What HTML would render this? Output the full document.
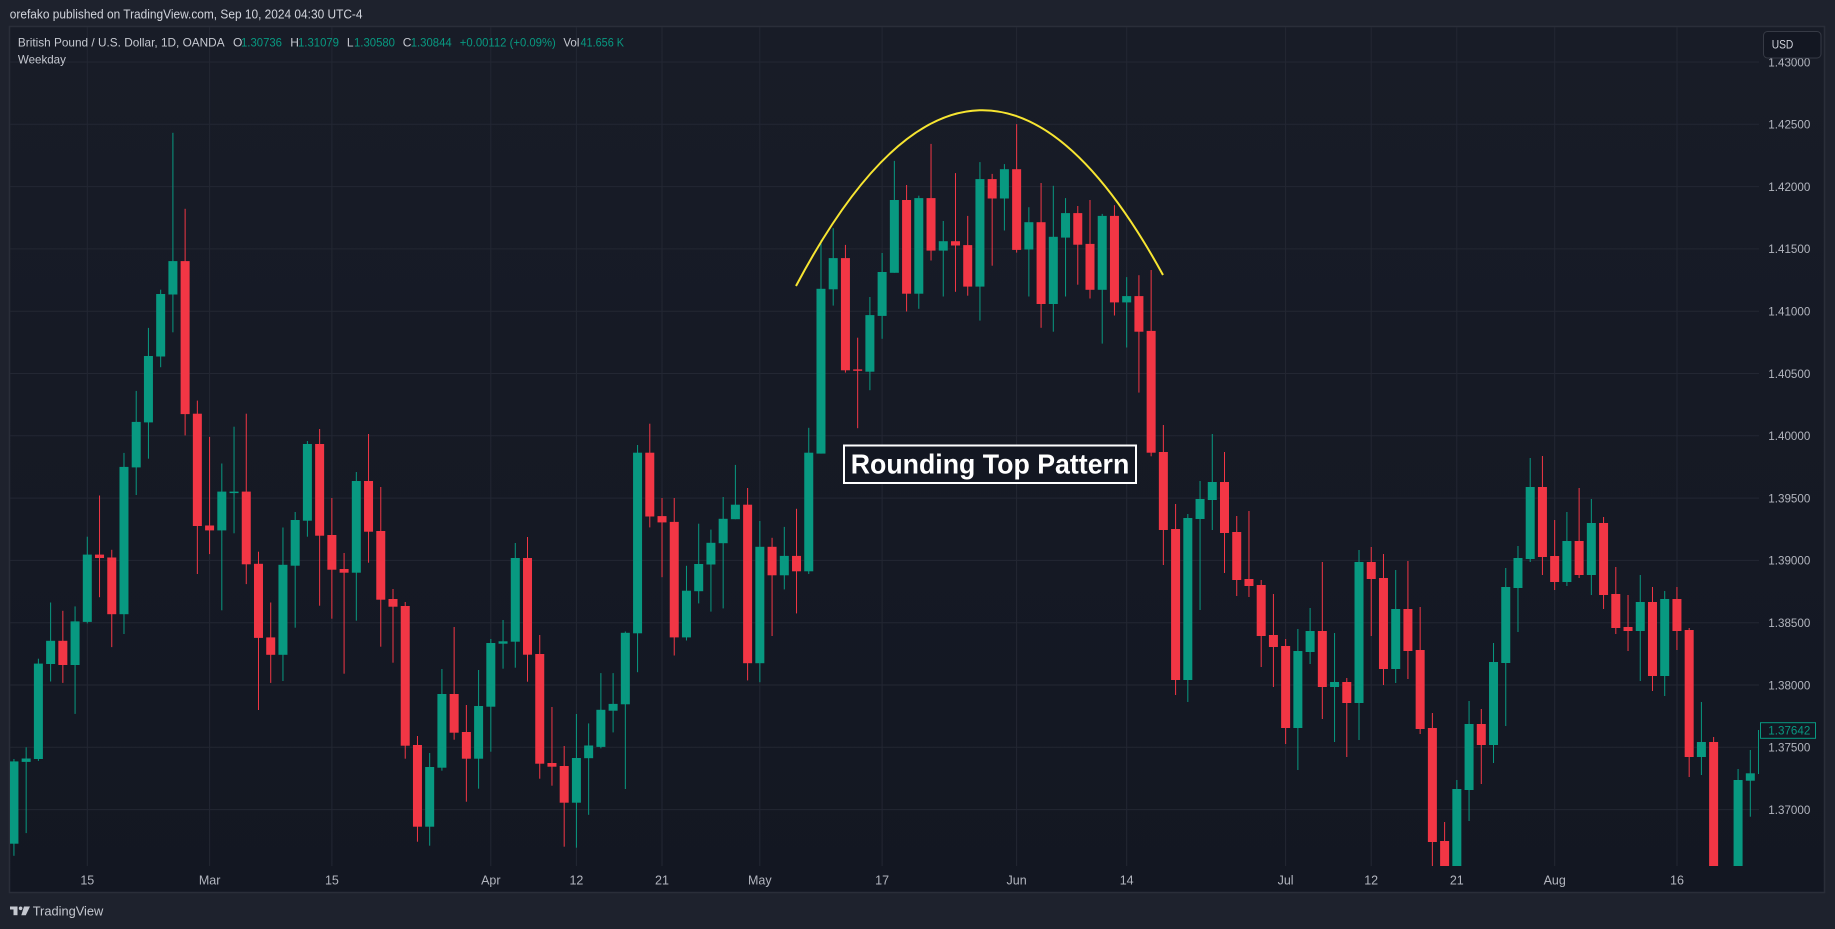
<!DOCTYPE html>
<html><head><meta charset="utf-8"><style>
html,body{margin:0;padding:0;background:#1E222D;}
svg{display:block;}
text{font-family:"Liberation Sans",sans-serif;}
</style></head><body>
<svg width="1835" height="929" viewBox="0 0 1835 929" xmlns="http://www.w3.org/2000/svg">
<defs>
<linearGradient id="bg" x1="0" y1="0" x2="0" y2="1"><stop offset="0" stop-color="#181C27"/><stop offset="1" stop-color="#131722"/></linearGradient>
<clipPath id="plot"><rect x="10" y="27" width="1749" height="839"/></clipPath>
</defs>
<rect x="0" y="0" width="1835" height="929" fill="#1E222D"/>
<text x="9.8" y="18.5" font-size="12.5" fill="#D1D4DC" textLength="352.7" lengthAdjust="spacingAndGlyphs">orefako published on TradingView.com, Sep 10, 2024 04:30 UTC-4</text>
<rect x="9.5" y="26.5" width="1815" height="866" fill="url(#bg)" stroke="#2A2E39" stroke-width="1.5"/>
<!-- grid -->
<g stroke="#232733" stroke-width="1">
<line x1="10" x2="1759" y1="62" y2="62"/><line x1="10" x2="1759" y1="124.3" y2="124.3"/><line x1="10" x2="1759" y1="186.6" y2="186.6"/><line x1="10" x2="1759" y1="248.9" y2="248.9"/><line x1="10" x2="1759" y1="311.2" y2="311.2"/><line x1="10" x2="1759" y1="373.5" y2="373.5"/><line x1="10" x2="1759" y1="435.8" y2="435.8"/><line x1="10" x2="1759" y1="498.1" y2="498.1"/><line x1="10" x2="1759" y1="560.4" y2="560.4"/><line x1="10" x2="1759" y1="622.7" y2="622.7"/><line x1="10" x2="1759" y1="685" y2="685"/><line x1="10" x2="1759" y1="747.3" y2="747.3"/><line x1="10" x2="1759" y1="809.6" y2="809.6"/>
<line y1="27" y2="866" x1="87.3" x2="87.3"/><line y1="27" y2="866" x1="209.6" x2="209.6"/><line y1="27" y2="866" x1="331.9" x2="331.9"/><line y1="27" y2="866" x1="490.8" x2="490.8"/><line y1="27" y2="866" x1="576.4" x2="576.4"/><line y1="27" y2="866" x1="662" x2="662"/><line y1="27" y2="866" x1="759.8" x2="759.8"/><line y1="27" y2="866" x1="882.1" x2="882.1"/><line y1="27" y2="866" x1="1016.6" x2="1016.6"/><line y1="27" y2="866" x1="1126.7" x2="1126.7"/><line y1="27" y2="866" x1="1285.6" x2="1285.6"/><line y1="27" y2="866" x1="1371.2" x2="1371.2"/><line y1="27" y2="866" x1="1456.8" x2="1456.8"/><line y1="27" y2="866" x1="1554.7" x2="1554.7"/><line y1="27" y2="866" x1="1677" x2="1677"/>
</g>
<g clip-path="url(#plot)">
<g fill="#089981">
<rect x="9.43" y="761.4" width="9" height="82.3"/><rect x="13.43" y="759" width="1" height="96.8"/>
<rect x="21.66" y="758.5" width="9" height="3.4"/><rect x="25.66" y="747.3" width="1" height="85.8"/>
<rect x="33.89" y="663.6" width="9" height="95.4"/><rect x="37.89" y="658.7" width="1" height="102.2"/>
<rect x="46.12" y="640.8" width="9" height="23.2"/><rect x="50.12" y="602.5" width="1" height="79"/>
<rect x="70.57" y="621.4" width="9" height="43.6"/><rect x="74.57" y="606.4" width="1" height="107.5"/>
<rect x="82.8" y="554.6" width="9" height="67.3"/><rect x="86.8" y="536.7" width="1" height="86.7"/>
<rect x="119.48" y="466.9" width="9" height="147.3"/><rect x="123.48" y="452.9" width="1" height="181.1"/>
<rect x="131.71" y="421.9" width="9" height="45.5"/><rect x="135.71" y="390.9" width="1" height="104.1"/>
<rect x="143.94" y="356" width="9" height="66.4"/><rect x="147.94" y="327.9" width="1" height="130.8"/>
<rect x="156.17" y="294" width="9" height="62.5"/><rect x="160.17" y="289.7" width="1" height="77.5"/>
<rect x="168.4" y="261.1" width="9" height="33.4"/><rect x="172.4" y="132.8" width="1" height="199.5"/>
<rect x="217.31" y="491.6" width="9" height="38.8"/><rect x="221.31" y="463.5" width="1" height="146.8"/>
<rect x="229.54" y="491.6" width="9" height="1.5"/><rect x="233.54" y="426.7" width="1" height="106.6"/>
<rect x="278.45" y="564.8" width="9" height="90"/><rect x="282.45" y="527.5" width="1" height="153.5"/>
<rect x="290.68" y="520" width="9" height="45.7"/><rect x="294.68" y="512" width="1" height="115.7"/>
<rect x="302.9" y="444" width="9" height="76.7"/><rect x="306.9" y="441" width="1" height="95.7"/>
<rect x="351.82" y="481" width="9" height="91.7"/><rect x="355.82" y="472" width="1" height="148.7"/>
<rect x="425.18" y="767" width="9" height="59.7"/><rect x="429.18" y="753" width="1" height="92.7"/>
<rect x="437.41" y="694" width="9" height="73.7"/><rect x="441.41" y="669" width="1" height="101.7"/>
<rect x="474.1" y="706" width="9" height="52.7"/><rect x="478.1" y="670" width="1" height="118.7"/>
<rect x="486.32" y="643" width="9" height="63.7"/><rect x="490.32" y="639" width="1" height="112.7"/>
<rect x="498.55" y="641.3" width="9" height="2.4"/><rect x="502.55" y="620" width="1" height="48.7"/>
<rect x="510.78" y="558" width="9" height="83.7"/><rect x="514.78" y="543" width="1" height="124.7"/>
<rect x="571.92" y="758" width="9" height="44.7"/><rect x="575.92" y="714" width="1" height="133.7"/>
<rect x="584.15" y="745.5" width="9" height="12.7"/><rect x="588.15" y="723.4" width="1" height="91.4"/>
<rect x="596.38" y="709.8" width="9" height="37.1"/><rect x="600.38" y="673.1" width="1" height="75.2"/>
<rect x="608.6" y="703.9" width="9" height="6.8"/><rect x="612.6" y="673.1" width="1" height="59.3"/>
<rect x="620.83" y="632.8" width="9" height="71.5"/><rect x="624.83" y="631.5" width="1" height="157.5"/>
<rect x="633.06" y="452.7" width="9" height="180.6"/><rect x="637.06" y="445" width="1" height="227.2"/>
<rect x="681.97" y="590.7" width="9" height="46.7"/><rect x="685.97" y="565.8" width="1" height="74.7"/>
<rect x="694.2" y="564" width="9" height="27.2"/><rect x="698.2" y="523.7" width="1" height="79.7"/>
<rect x="706.43" y="542.8" width="9" height="21.7"/><rect x="710.43" y="529.6" width="1" height="82"/>
<rect x="718.66" y="518.8" width="9" height="24.4"/><rect x="722.66" y="497" width="1" height="111.4"/>
<rect x="730.88" y="504.7" width="9" height="14.5"/><rect x="734.88" y="464.9" width="1" height="54.3"/>
<rect x="755.34" y="546.8" width="9" height="116.4"/><rect x="759.34" y="521" width="1" height="161.2"/>
<rect x="779.8" y="555.9" width="9" height="19.4"/><rect x="783.8" y="526.9" width="1" height="62.5"/>
<rect x="804.25" y="452.7" width="9" height="118.6"/><rect x="808.25" y="427.8" width="1" height="146.2"/>
<rect x="816.48" y="288.8" width="9" height="164.8"/><rect x="820.48" y="240" width="1" height="213.6"/>
<rect x="828.71" y="258.1" width="9" height="31.2"/><rect x="832.71" y="228.2" width="1" height="77.4"/>
<rect x="865.39" y="315.1" width="9" height="56.6"/><rect x="869.39" y="297" width="1" height="93.2"/>
<rect x="877.62" y="272" width="9" height="43.9"/><rect x="881.62" y="253" width="1" height="85.8"/>
<rect x="889.85" y="200" width="9" height="72.8"/><rect x="893.85" y="160.9" width="1" height="111.9"/>
<rect x="914.3" y="198.1" width="9" height="95.6"/><rect x="918.3" y="195.7" width="1" height="113.1"/>
<rect x="938.76" y="241.2" width="9" height="9.4"/><rect x="942.76" y="221" width="1" height="75.5"/>
<rect x="975.44" y="179.1" width="9" height="107.5"/><rect x="979.44" y="162.1" width="1" height="158.5"/>
<rect x="999.9" y="169.2" width="9" height="29.3"/><rect x="1003.9" y="164.1" width="1" height="66.4"/>
<rect x="1024.36" y="222.2" width="9" height="27.3"/><rect x="1028.36" y="207.2" width="1" height="89.3"/>
<rect x="1048.81" y="236.8" width="9" height="67.2"/><rect x="1052.81" y="185.8" width="1" height="145.9"/>
<rect x="1061.04" y="213.1" width="9" height="24.5"/><rect x="1065.04" y="198.1" width="1" height="98.4"/>
<rect x="1097.72" y="215.9" width="9" height="73.9"/><rect x="1101.72" y="213.9" width="1" height="129.7"/>
<rect x="1122.18" y="296.1" width="9" height="6.3"/><rect x="1126.18" y="277.1" width="1" height="70.4"/>
<rect x="1183.32" y="518" width="9" height="162"/><rect x="1187.32" y="514" width="1" height="188"/>
<rect x="1195.55" y="499" width="9" height="20"/><rect x="1199.55" y="481" width="1" height="129"/>
<rect x="1207.78" y="482" width="9" height="18"/><rect x="1211.78" y="434" width="1" height="96"/>
<rect x="1293.37" y="651" width="9" height="77"/><rect x="1297.37" y="629" width="1" height="141"/>
<rect x="1305.6" y="631" width="9" height="21"/><rect x="1309.6" y="608" width="1" height="56"/>
<rect x="1330.06" y="682" width="9" height="5"/><rect x="1334.06" y="633" width="1" height="109"/>
<rect x="1354.51" y="562" width="9" height="141"/><rect x="1358.51" y="550" width="1" height="190"/>
<rect x="1391.2" y="609" width="9" height="60"/><rect x="1395.2" y="570" width="1" height="113"/>
<rect x="1452.34" y="789" width="9" height="80"/><rect x="1456.34" y="780" width="1" height="90"/>
<rect x="1464.56" y="724" width="9" height="66"/><rect x="1468.56" y="701" width="1" height="120"/>
<rect x="1489.02" y="662" width="9" height="83"/><rect x="1493.02" y="643" width="1" height="120"/>
<rect x="1501.25" y="587" width="9" height="76"/><rect x="1505.25" y="568" width="1" height="158"/>
<rect x="1513.48" y="558" width="9" height="30"/><rect x="1517.48" y="546" width="1" height="86"/>
<rect x="1525.7" y="487" width="9" height="72"/><rect x="1529.7" y="458" width="1" height="104"/>
<rect x="1562.39" y="541" width="9" height="41"/><rect x="1566.39" y="512" width="1" height="74"/>
<rect x="1586.84" y="523" width="9" height="52"/><rect x="1590.84" y="499" width="1" height="96"/>
<rect x="1635.76" y="602" width="9" height="29"/><rect x="1639.76" y="575" width="1" height="106"/>
<rect x="1660.21" y="599" width="9" height="77"/><rect x="1664.21" y="591" width="1" height="105"/>
<rect x="1696.9" y="742" width="9" height="15"/><rect x="1700.9" y="702" width="1" height="73"/>
<rect x="1733.58" y="780" width="9" height="90"/><rect x="1737.58" y="769" width="1" height="100"/>
<rect x="1745.81" y="773.3" width="9" height="7.4"/><rect x="1749.81" y="750" width="1" height="66.7"/>
<rect x="1758.04" y="730" width="9" height="44"/>
</g>
<g fill="#F23645">
<rect x="58.34" y="640.8" width="9" height="24.2"/><rect x="62.34" y="610.8" width="1" height="72.1"/>
<rect x="95.03" y="554.6" width="9" height="3.4"/><rect x="99.03" y="495.5" width="1" height="101.7"/>
<rect x="107.26" y="557.5" width="9" height="56.7"/><rect x="111.26" y="549.8" width="1" height="97.3"/>
<rect x="180.62" y="261.1" width="9" height="153"/><rect x="184.62" y="208.8" width="1" height="226.6"/>
<rect x="192.85" y="413.7" width="9" height="112.3"/><rect x="196.85" y="400.6" width="1" height="173.4"/>
<rect x="205.08" y="525.5" width="9" height="4.9"/><rect x="209.08" y="436.9" width="1" height="117.2"/>
<rect x="241.76" y="491.6" width="9" height="72.7"/><rect x="245.76" y="413.7" width="1" height="170.4"/>
<rect x="253.99" y="563.8" width="9" height="74.1"/><rect x="257.99" y="551.7" width="1" height="158.3"/>
<rect x="266.22" y="637.4" width="9" height="17.4"/><rect x="270.22" y="602.5" width="1" height="80.4"/>
<rect x="315.13" y="444" width="9" height="91.7"/><rect x="319.13" y="429" width="1" height="176.7"/>
<rect x="327.36" y="535" width="9" height="34.7"/><rect x="331.36" y="498" width="1" height="120.7"/>
<rect x="339.59" y="569" width="9" height="3.7"/><rect x="343.59" y="553" width="1" height="120.7"/>
<rect x="364.04" y="481" width="9" height="50.7"/><rect x="368.04" y="434" width="1" height="128.7"/>
<rect x="376.27" y="531" width="9" height="68.7"/><rect x="380.27" y="487" width="1" height="159.7"/>
<rect x="388.5" y="599" width="9" height="7.7"/><rect x="392.5" y="589" width="1" height="73.7"/>
<rect x="400.73" y="606" width="9" height="139.7"/><rect x="404.73" y="602" width="1" height="156.7"/>
<rect x="412.96" y="745" width="9" height="81.7"/><rect x="416.96" y="736" width="1" height="105.7"/>
<rect x="449.64" y="694" width="9" height="38.7"/><rect x="453.64" y="627" width="1" height="112.7"/>
<rect x="461.87" y="732" width="9" height="26.7"/><rect x="465.87" y="705" width="1" height="96.7"/>
<rect x="523.01" y="558" width="9" height="96.7"/><rect x="527.01" y="537" width="1" height="144.7"/>
<rect x="535.24" y="654" width="9" height="109.7"/><rect x="539.24" y="635" width="1" height="143.7"/>
<rect x="547.46" y="763" width="9" height="3.7"/><rect x="551.46" y="707" width="1" height="78.7"/>
<rect x="559.69" y="766" width="9" height="36.7"/><rect x="563.69" y="746" width="1" height="100.7"/>
<rect x="645.29" y="452.7" width="9" height="63.8"/><rect x="649.29" y="423.7" width="1" height="103.7"/>
<rect x="657.52" y="516.1" width="9" height="6.3"/><rect x="661.52" y="498" width="1" height="79.2"/>
<rect x="669.74" y="521.9" width="9" height="115.5"/><rect x="673.74" y="498" width="1" height="157.5"/>
<rect x="743.11" y="504.7" width="9" height="158.5"/><rect x="747.11" y="488" width="1" height="192.4"/>
<rect x="767.57" y="546.8" width="9" height="28.5"/><rect x="771.57" y="537.8" width="1" height="98.2"/>
<rect x="792.02" y="555.9" width="9" height="15.4"/><rect x="796.02" y="508.8" width="1" height="104.6"/>
<rect x="840.94" y="258.1" width="9" height="112.2"/><rect x="844.94" y="244.9" width="1" height="127.7"/>
<rect x="853.16" y="369.4" width="9" height="1.4"/><rect x="857.16" y="337.7" width="1" height="90.5"/>
<rect x="902.08" y="200" width="9" height="93.7"/><rect x="906.08" y="185" width="1" height="126.5"/>
<rect x="926.53" y="198.1" width="9" height="52.5"/><rect x="930.53" y="143.9" width="1" height="116.6"/>
<rect x="950.99" y="241.2" width="9" height="4.3"/><rect x="954.99" y="173.1" width="1" height="118.7"/>
<rect x="963.22" y="245.1" width="9" height="41.5"/><rect x="967.22" y="215.9" width="1" height="79.8"/>
<rect x="987.67" y="179.1" width="9" height="19.4"/><rect x="991.67" y="173.9" width="1" height="91.8"/>
<rect x="1012.13" y="169.2" width="9" height="80.7"/><rect x="1016.13" y="124.1" width="1" height="128.5"/>
<rect x="1036.58" y="222.2" width="9" height="81.8"/><rect x="1040.58" y="183" width="1" height="144.8"/>
<rect x="1073.27" y="213.1" width="9" height="31.6"/><rect x="1077.27" y="206" width="1" height="78.7"/>
<rect x="1085.5" y="243.9" width="9" height="45.9"/><rect x="1089.5" y="200" width="1" height="98.5"/>
<rect x="1109.95" y="215.9" width="9" height="86.5"/><rect x="1113.95" y="205.2" width="1" height="110.3"/>
<rect x="1134.41" y="296.1" width="9" height="35.6"/><rect x="1138.41" y="275.2" width="1" height="117.4"/>
<rect x="1146.64" y="330.9" width="9" height="121.8"/><rect x="1150.64" y="270" width="1" height="186.3"/>
<rect x="1158.86" y="452" width="9" height="78"/><rect x="1162.86" y="425" width="1" height="140"/>
<rect x="1171.09" y="529" width="9" height="151"/><rect x="1175.09" y="504" width="1" height="191"/>
<rect x="1220" y="482" width="9" height="51"/><rect x="1224" y="452" width="1" height="121"/>
<rect x="1232.23" y="532" width="9" height="48"/><rect x="1236.23" y="516" width="1" height="80"/>
<rect x="1244.46" y="579" width="9" height="7"/><rect x="1248.46" y="511" width="1" height="86"/>
<rect x="1256.69" y="585" width="9" height="51"/><rect x="1260.69" y="580" width="1" height="87"/>
<rect x="1268.92" y="635" width="9" height="12"/><rect x="1272.92" y="594" width="1" height="93"/>
<rect x="1281.14" y="646" width="9" height="82"/><rect x="1285.14" y="639" width="1" height="105"/>
<rect x="1317.83" y="631" width="9" height="56"/><rect x="1321.83" y="562" width="1" height="157"/>
<rect x="1342.28" y="682" width="9" height="21"/><rect x="1346.28" y="678" width="1" height="79"/>
<rect x="1366.74" y="562" width="9" height="17"/><rect x="1370.74" y="547" width="1" height="89"/>
<rect x="1378.97" y="578" width="9" height="91"/><rect x="1382.97" y="554" width="1" height="131"/>
<rect x="1403.42" y="609" width="9" height="42"/><rect x="1407.42" y="561" width="1" height="118"/>
<rect x="1415.65" y="650" width="9" height="79"/><rect x="1419.65" y="607" width="1" height="127"/>
<rect x="1427.88" y="728" width="9" height="114"/><rect x="1431.88" y="713" width="1" height="160"/>
<rect x="1440.11" y="841" width="9" height="30"/><rect x="1444.11" y="822" width="1" height="50"/>
<rect x="1476.79" y="724" width="9" height="21"/><rect x="1480.79" y="709" width="1" height="75"/>
<rect x="1537.93" y="487" width="9" height="70"/><rect x="1541.93" y="456" width="1" height="119"/>
<rect x="1550.16" y="556" width="9" height="26"/><rect x="1554.16" y="520" width="1" height="70"/>
<rect x="1574.62" y="541" width="9" height="34"/><rect x="1578.62" y="488" width="1" height="90"/>
<rect x="1599.07" y="523" width="9" height="72"/><rect x="1603.07" y="517" width="1" height="92"/>
<rect x="1611.3" y="594" width="9" height="34"/><rect x="1615.3" y="567" width="1" height="67"/>
<rect x="1623.53" y="627" width="9" height="4"/><rect x="1627.53" y="595" width="1" height="56"/>
<rect x="1647.98" y="602" width="9" height="74"/><rect x="1651.98" y="587" width="1" height="104"/>
<rect x="1672.44" y="599" width="9" height="32"/><rect x="1676.44" y="587" width="1" height="63"/>
<rect x="1684.67" y="630" width="9" height="127"/><rect x="1688.67" y="628" width="1" height="149"/>
<rect x="1709.12" y="742" width="9" height="130"/><rect x="1713.12" y="737" width="1" height="135"/>
</g>
<path d="M796 286 Q979.5 -60 1163 275" fill="none" stroke="#F7E531" stroke-width="2"/>
</g>
<!-- annotation -->
<rect x="844" y="445.5" width="292" height="37.5" fill="#131722" stroke="#FFFFFF" stroke-width="2"/>
<text x="850.7" y="473.5" font-size="28" font-weight="bold" fill="#FFFFFF" textLength="278.6" lengthAdjust="spacingAndGlyphs">Rounding Top Pattern</text>
<!-- legend -->
<g font-size="12">
<text x="17.9" y="46.5" fill="#C5C8D0" textLength="206.7" lengthAdjust="spacingAndGlyphs">British Pound / U.S. Dollar, 1D, OANDA</text>
<text x="233" y="46.5" fill="#C5C8D0">O</text><text x="241" y="46.5" fill="#089981" textLength="41" lengthAdjust="spacingAndGlyphs">1.30736</text>
<text x="290.2" y="46.5" fill="#C5C8D0">H</text><text x="298" y="46.5" fill="#089981" textLength="41" lengthAdjust="spacingAndGlyphs">1.31079</text>
<text x="346.9" y="46.5" fill="#C5C8D0">L</text><text x="354" y="46.5" fill="#089981" textLength="41" lengthAdjust="spacingAndGlyphs">1.30580</text>
<text x="402.7" y="46.5" fill="#C5C8D0">C</text><text x="410.7" y="46.5" fill="#089981" textLength="41" lengthAdjust="spacingAndGlyphs">1.30844</text>
<text x="459.8" y="46.5" fill="#089981" textLength="96" lengthAdjust="spacingAndGlyphs">+0.00112 (+0.09%)</text>
<text x="563.4" y="46.5" fill="#C5C8D0" textLength="16" lengthAdjust="spacingAndGlyphs">Vol</text><text x="580.5" y="46.5" fill="#089981" textLength="43.5" lengthAdjust="spacingAndGlyphs">41.656 K</text>
<text x="17.9" y="63.5" fill="#C5C8D0" textLength="48" lengthAdjust="spacingAndGlyphs">Weekday</text>
</g>
<!-- price axis -->
<g font-size="12" fill="#B2B5BE">
<text x="1768.3" y="66.3" textLength="42" lengthAdjust="spacingAndGlyphs">1.43000</text>
<text x="1768.3" y="128.6" textLength="42" lengthAdjust="spacingAndGlyphs">1.42500</text>
<text x="1768.3" y="190.9" textLength="42" lengthAdjust="spacingAndGlyphs">1.42000</text>
<text x="1768.3" y="253.2" textLength="42" lengthAdjust="spacingAndGlyphs">1.41500</text>
<text x="1768.3" y="315.5" textLength="42" lengthAdjust="spacingAndGlyphs">1.41000</text>
<text x="1768.3" y="377.8" textLength="42" lengthAdjust="spacingAndGlyphs">1.40500</text>
<text x="1768.3" y="440.1" textLength="42" lengthAdjust="spacingAndGlyphs">1.40000</text>
<text x="1768.3" y="502.4" textLength="42" lengthAdjust="spacingAndGlyphs">1.39500</text>
<text x="1768.3" y="564.7" textLength="42" lengthAdjust="spacingAndGlyphs">1.39000</text>
<text x="1768.3" y="627" textLength="42" lengthAdjust="spacingAndGlyphs">1.38500</text>
<text x="1768.3" y="689.3" textLength="42" lengthAdjust="spacingAndGlyphs">1.38000</text>
<text x="1768.3" y="751.6" textLength="42" lengthAdjust="spacingAndGlyphs">1.37500</text>
<text x="1768.3" y="813.9" textLength="42" lengthAdjust="spacingAndGlyphs">1.37000</text>
</g>
<rect x="1760.5" y="722.7" width="55" height="15.6" fill="#131722" stroke="#089981" stroke-width="1"/>
<text x="1768.3" y="734.6" font-size="12" fill="#089981" textLength="42" lengthAdjust="spacingAndGlyphs">1.37642</text>
<rect x="1763.5" y="31.5" width="57.5" height="26.5" rx="4" fill="#131722" stroke="#363A45" stroke-width="1"/>
<text x="1771.7" y="48.5" font-size="12" fill="#D1D4DC" textLength="21.6" lengthAdjust="spacingAndGlyphs">USD</text>
<!-- time axis -->
<g font-size="12.5" fill="#B2B5BE" text-anchor="middle">
<text x="87.3" y="884.5">15</text><text x="209.6" y="884.5">Mar</text><text x="331.9" y="884.5">15</text><text x="490.8" y="884.5">Apr</text><text x="576.4" y="884.5">12</text><text x="662" y="884.5">21</text><text x="759.8" y="884.5">May</text><text x="882.1" y="884.5">17</text><text x="1016.6" y="884.5">Jun</text><text x="1126.7" y="884.5">14</text><text x="1285.6" y="884.5">Jul</text><text x="1371.2" y="884.5">12</text><text x="1456.8" y="884.5">21</text><text x="1554.7" y="884.5">Aug</text><text x="1677" y="884.5">16</text>
</g>
<!-- footer logo -->
<g fill="#C5C8D0">
<rect x="10" y="906.5" width="7.5" height="3"/><rect x="13.5" y="906.5" width="4" height="8.7"/>
<circle cx="20.6" cy="908.3" r="1.8"/>
<polygon points="24,906.5 30,906.5 25.8,915.2 21.3,915.2"/>
<text x="32.7" y="915.5" font-size="13" textLength="70.6" lengthAdjust="spacingAndGlyphs">TradingView</text>
</g>
</svg>
</body></html>
